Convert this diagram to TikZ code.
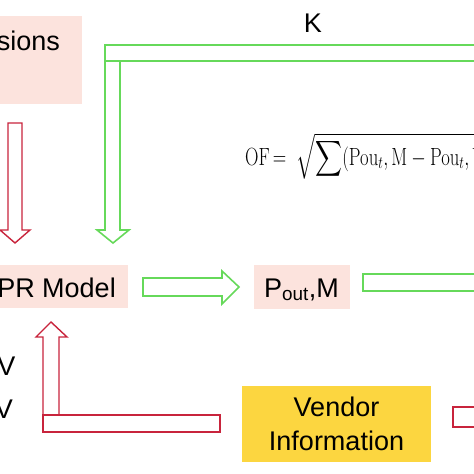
\documentclass[tikz,border=0pt]{standalone}
\usepackage[no-math]{fontspec}
\setmainfont{Liberation Sans}
\usepackage{amsmath}
\definecolor{boxpink}{HTML}{FCE3DD}
\definecolor{vyellow}{HTML}{FCD640}
\definecolor{agreen}{HTML}{66D95A}
\definecolor{ared}{HTML}{C8243C}
\tikzset{
  pinkbox/.style={fill=boxpink, draw=none, inner sep=0pt},
  yellowbox/.style={fill=vyellow, draw=none, inner sep=0pt},
  lbl/.style={inner sep=0pt, font=\fontsize{27}{34}\selectfont},
  garrow/.style={draw=agreen, line width=1.6pt, line join=miter},
  rarrow/.style={draw=ared, line width=1.4pt, line join=miter}
}
\begin{document}
\begin{tikzpicture}[x=1pt,y=-1pt]
\useasboundingbox (0,0) rectangle (474,474);
\clip (0,0) rectangle (474,474);
% boxes
\node[pinkbox, minimum width=142pt, minimum height=88pt] (emis) at (11,60) {};
\node[lbl, anchor=base east] (emist) at (60,50) {sions};
\node[pinkbox, minimum width=158pt, minimum height=43pt] (pr) at (49,286.5) {};
\node[lbl, anchor=base east] (prt) at (116,297) {PR Model};
\node[pinkbox, minimum width=96pt, minimum height=44pt] (pout) at (302,287) {};
\node[lbl, anchor=base] (poutt) at (301.5,297) {P\textsubscript{out},M};
\node[yellowbox, lbl, minimum width=189pt, minimum height=76pt, align=center] (vend) at (336.5,424) {Vendor\\Information};
% labels
\node[lbl, anchor=base] (k) at (313,32) {K};
\node[lbl, anchor=base east] (v1) at (15.5,375) {V};
\node[lbl, anchor=base east] (v2) at (13,418) {V};
\node[inner sep=0pt, anchor=base west] (of) at (245,165) {\scalebox{0.75}[1]{\fontsize{24}{28}\selectfont$\displaystyle \mathrm{OF}\,{=}\;\;\sqrt{\sum(\mathrm{Pou}_t, \mathrm{M} - \mathrm{Pou}_t, \mathrm{V})^2}$}};
% red down arrow from emissions box to PR model
\draw[rarrow] (8,123) -- (22,123) -- (22,230) -- (30,230) -- (15,243) -- (0,230) -- (8,230) -- cycle;
% green bent arrow K
\draw[garrow] (105,45) rectangle (480,61);
\draw[garrow] (105,61) -- (105,230) -- (97,230) -- (113,243) -- (129,230) -- (120,230) -- (120,61);
% green right arrow PR -> Pout
\draw[garrow] (143,278) -- (222,278) -- (222,271) -- (239,287) -- (222,304) -- (222,296) -- (143,296) -- cycle;
% green bar from Pout
\draw[garrow] (363,274) rectangle (480,291);
% red bent arrow up to PR model
\draw[rarrow] (59,415) -- (59,337) -- (67,337) -- (51,322) -- (36,337) -- (43,337) -- (43,415);
\draw[rarrow] (43,415) rectangle (220,432);
% red bar from vendor
\draw[rarrow] (453,407) rectangle (480,427);
\end{tikzpicture}
\end{document}
